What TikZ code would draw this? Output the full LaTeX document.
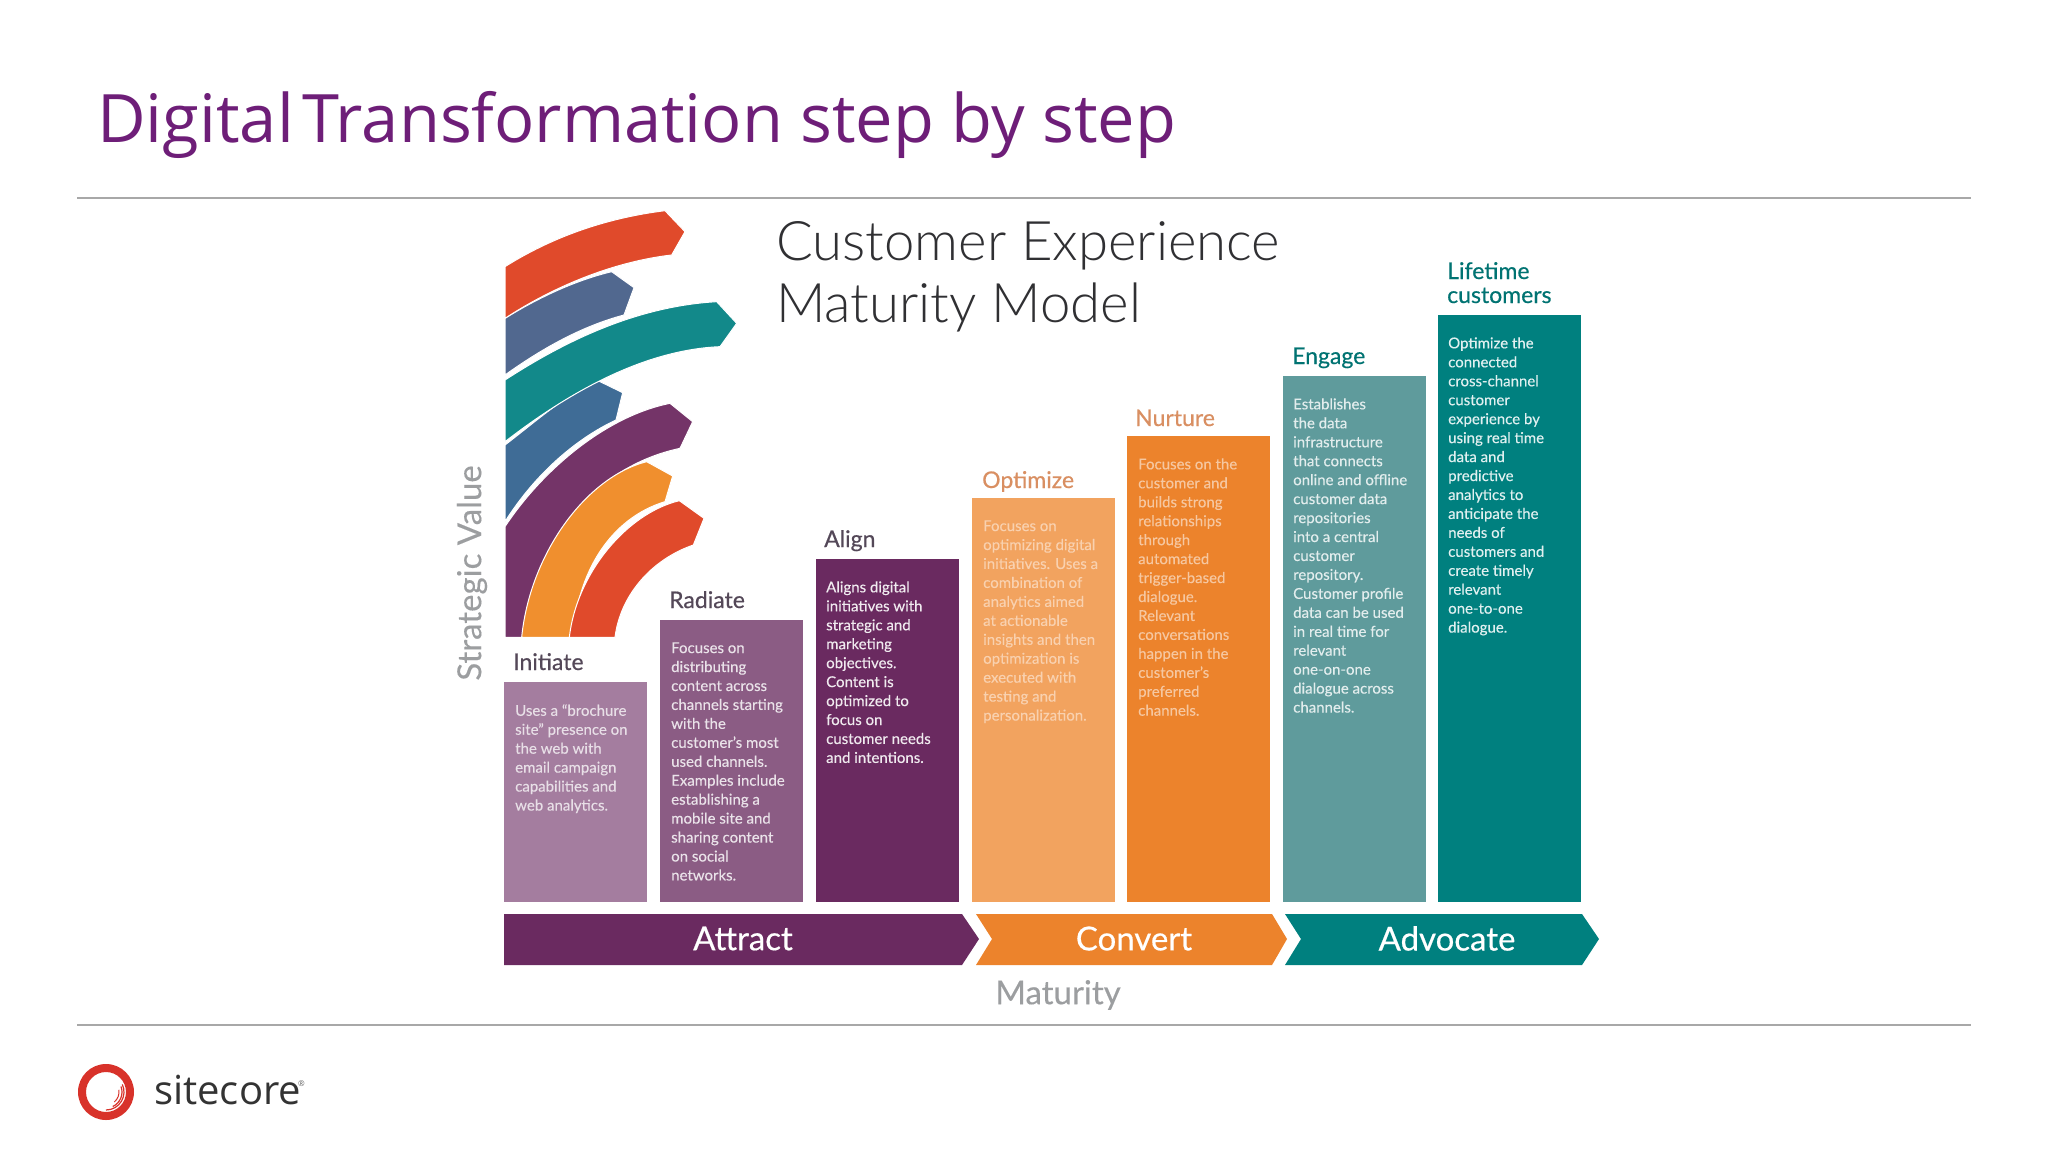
\documentclass[tikz,border=0pt]{standalone}
\usepackage{fontspec}
\setmainfont{Lato}
\newfontfamily\titlefont{Open Sans}
\newfontfamily\logofont{Open Sans}
\newfontfamily\headfont[FakeBold=0.45]{Lato}
\newfontfamily\bodyfont[FakeBold=0.25]{Lato}
\newfontfamily\lightfont{Lato Light}
\definecolor{titlepurple}{HTML}{6E1E78}
\definecolor{rulegrey}{HTML}{A8A8A8}
\definecolor{axisgrey}{HTML}{9C9EA0}
\definecolor{headdark}{HTML}{303033}
\definecolor{headplum}{HTML}{544858}
\definecolor{cInitiate}{HTML}{A47D9F}
\definecolor{cRadiate}{HTML}{8B5C84}
\definecolor{cAlign}{HTML}{6A2A60}
\definecolor{cOptimize}{HTML}{F2A35F}
\definecolor{cNurture}{HTML}{EC832C}
\definecolor{cEngage}{HTML}{5F9B9C}
\definecolor{cLifetime}{HTML}{00807F}
\definecolor{arcRed}{HTML}{E04A2B}
\definecolor{arcSlate}{HTML}{51688F}
\definecolor{arcTeal}{HTML}{12898A}
\definecolor{arcBlue}{HTML}{3F6C96}
\definecolor{arcPurple}{HTML}{743468}
\definecolor{arcOrange}{HTML}{F08F2E}
\definecolor{logoRed}{HTML}{D8322A}
\definecolor{headOrange}{HTML}{D98F62}
\tikzset{
  box/.style={draw=none,anchor=south west,inner sep=0pt,minimum width=142.5pt},
  boxtext/.style={anchor=north west,inner sep=0pt,align=left,font=\bodyfont\fontsize{15}{18.95}\selectfont},
  head/.style={anchor=base west,inner sep=0pt,font=\headfont\fontsize{23}{24}\selectfont},
  arc/.style={draw=white,line width=1pt,line join=round},
  barlabel/.style={inner sep=0pt,text=white,font=\headfont\fontsize{33}{35}\selectfont},
  axis/.style={inner sep=0pt,text=axisgrey,font=\bodyfont\fontsize{33}{35}\selectfont},
  rule/.style={draw=rulegrey,line width=1.2pt}
}
\begin{document}
\begin{tikzpicture}[x=1pt,y=-1pt]
\useasboundingbox (0,0) rectangle (2048,1152);
\fill[white] (0,0) rectangle (2048,1152);
% title
\node[anchor=base west,inner sep=0pt,text=titlepurple,font=\titlefont\fontsize{66.8}{72}\selectfont] (title) at (97,142) {Digital\hspace{-9pt} Transformation step by step};
\coordinate (r1a) at (77,198); \coordinate (r1b) at (1971,198);
\coordinate (r2a) at (77,1025); \coordinate (r2b) at (1971,1025);
\draw[rule] (r1a) -- (r1b);
\draw[rule] (r2a) -- (r2b);
% fan of arcs
\begin{scope}[shift={(480,190)},x=0.33333pt,y=-0.33333pt]
\path[arc,fill=arcSlate] (75,385) .. controls (180,320) and (290,270) .. (395,245) -- (462,293) -- (432,375) .. controls (300,410) and (180,480) .. (75,555) -- cycle;
\path[arc,fill=arcBlue] (75,765) .. controls (160,700) and (250,620) .. (350,570) -- (428,608) -- (408,690) .. controls (280,750) and (160,860) .. (75,995) -- cycle;
\path[arc,fill=arcRed] (75,230) .. controls (210,145) and (370,85) .. (555,62) -- (615,125) -- (575,195) .. controls (400,215) and (220,290) .. (75,385) -- cycle;
\path[arc,fill=arcTeal] (75,570) .. controls (230,470) and (450,350) .. (710,335) -- (770,400) -- (720,470) .. controls (480,480) and (250,620) .. (75,755) -- cycle;
\path[arc,fill=arcPurple] (75,1010) .. controls (180,850) and (370,680) .. (570,640) -- (638,695) -- (600,775) .. controls (340,830) and (160,1060) .. (132,1342) -- (75,1342) -- cycle;
\path[arc,fill=arcOrange] (125,1342) .. controls (150,1090) and (320,860) .. (500,815) -- (578,858) -- (555,935) .. controls (390,985) and (290,1150) .. (280,1342) -- cycle;
\path[arc,fill=arcRed] (268,1342) .. controls (290,1150) and (440,970) .. (598,932) -- (672,985) -- (640,1065) .. controls (510,1110) and (420,1220) .. (405,1342) -- cycle;
\end{scope}
% heading
\node[anchor=base west,inner sep=0pt,align=left,text=headdark,font=\lightfont\fontsize{54.5}{62}\selectfont] (cemm) at (776,322) {Customer Experience\\Maturity Model};
% axis labels
\node[axis,rotate=90] (strategic) at (472,573) {Strategic Value};
\node[axis] (maturity) at (1058,995) {Maturity};
% boxes
\node[box,fill=cInitiate,minimum height=220pt] (initiate) at (504,902) {};
\node[box,fill=cRadiate,minimum height=282pt] (radiate) at (660,902) {};
\node[box,fill=cAlign,minimum height=343pt] (align) at (816,902) {};
\node[box,fill=cOptimize,minimum height=404pt] (optimize) at (972,902) {};
\node[box,fill=cNurture,minimum height=466pt] (nurture) at (1127,902) {};
\node[box,fill=cEngage,minimum height=526pt] (engage) at (1283,902) {};
\node[box,fill=cLifetime,minimum height=587pt] (lifetime) at (1438,902) {};
% box heads
\node[head,text=headplum] (hInitiate) at (513,670) {Initiate};
\node[head,text=headplum] (hRadiate) at (669,608) {Radiate};
\node[head,text=headplum] (hAlign) at (824,547) {Align};
\node[head,text=headOrange] (hOptimize) at (982,488) {Optimize};
\node[head,text=headOrange] (hNurture) at (1135,426) {Nurture};
\node[head,text=cLifetime!90!black] (hEngage) at (1292,364) {Engage};
\node[head,text=cLifetime!90!black,align=left] (hLifetime) at (1447,303) {Lifetime\\customers};
% box texts
\node[boxtext,text=cInitiate!25!white] (tInitiate) at ([xshift=11pt,yshift=-22.5pt]initiate.north west) {Uses a “brochure\\site” presence on\\the web with\\email campaign\\capabilities and\\web analytics.};
\node[boxtext,text=cRadiate!18!white] (tRadiate) at ([xshift=11pt,yshift=-22.5pt]radiate.north west) {Focuses on\\distributing\\content across\\channels starting\\with the\\customer’s most\\used channels.\\Examples include\\establishing a\\mobile site and\\sharing content\\on social\\networks.};
\node[boxtext,text=cAlign!10!white] (tAlign) at ([xshift=10pt,yshift=-22.5pt]align.north west) {Aligns digital\\initiatives with\\strategic and\\marketing\\objectives.\\Content is\\optimized to\\focus on\\customer needs\\and intentions.};
\node[boxtext,text=cOptimize!50!white] (tOptimize) at ([xshift=11pt,yshift=-22.5pt]optimize.north west) {Focuses on\\optimizing digital\\initiatives. Uses a\\combination of\\analytics aimed\\at actionable\\insights and then\\optimization is\\executed with\\testing and\\personalization.};
\node[boxtext,text=cNurture!45!white] (tNurture) at ([xshift=11pt,yshift=-22.5pt]nurture.north west) {Focuses on the\\customer and\\builds strong\\relationships\\through\\automated\\trigger-based\\dialogue.\\Relevant\\conversations\\happen in the\\customer’s\\preferred\\channels.};
\node[boxtext,text=cEngage!18!white] (tEngage) at ([xshift=10pt,yshift=-22.5pt]engage.north west) {Establishes\\the data\\infrastructure\\that connects\\online and offline\\customer data\\repositories\\into a central\\customer\\repository.\\Customer profile\\data can be used\\in real time for\\relevant\\one-on-one\\dialogue across\\channels.};
\node[boxtext,text=cLifetime!12!white] (tLifetime) at ([xshift=10pt,yshift=-22.5pt]lifetime.north west) {Optimize the\\connected\\cross-channel\\customer\\experience by\\using real time\\data and\\predictive\\analytics to\\anticipate the\\needs of\\customers and\\create timely\\relevant\\one-to-one\\dialogue.};
% bottom bars
\fill[cAlign] (504,914) -- (962,914) -- (979,939) -- (962,965) -- (504,965) -- cycle;
\fill[cNurture] (976,914) -- (1272,914) -- (1287,939) -- (1272,965) -- (976,965) -- (992,939) -- cycle;
\fill[cLifetime] (1285,914) -- (1582,914) -- (1599,939) -- (1582,965) -- (1285,965) -- (1301,939) -- cycle;
\node[barlabel] (attract) at (743,938.5) {Attract};
\node[barlabel] (convert) at (1134,938.5) {Convert};
\node[barlabel] (advocate) at (1447,938.5) {Advocate};
% logo
\coordinate (logoc) at (106,1092);
\fill[logoRed,even odd rule] (logoc) circle[radius=28pt] (logoc) circle[radius=20pt];
\draw[logoRed,line width=1.2pt] (logoc) ++(-65:16pt) arc[start angle=-65,end angle=20,radius=16pt];
\draw[logoRed,line width=1.2pt] (logoc) ++(-90:18pt) arc[start angle=-90,end angle=25,radius=18pt];
\draw[logoRed,line width=1pt] (logoc) ++(-50:13pt) arc[start angle=-50,end angle=10,radius=13pt];
\node[anchor=base west,inner sep=0pt,text=black!80,font=\logofont\fontsize{40}{42}\selectfont] (sitecore) at (154,1104) {sitecore};
\node[anchor=base west,inner sep=0pt,text=black!60,font=\logofont\fontsize{8}{9}\selectfont] (reg) at (298,1086) {®};
\end{tikzpicture}
\end{document}
